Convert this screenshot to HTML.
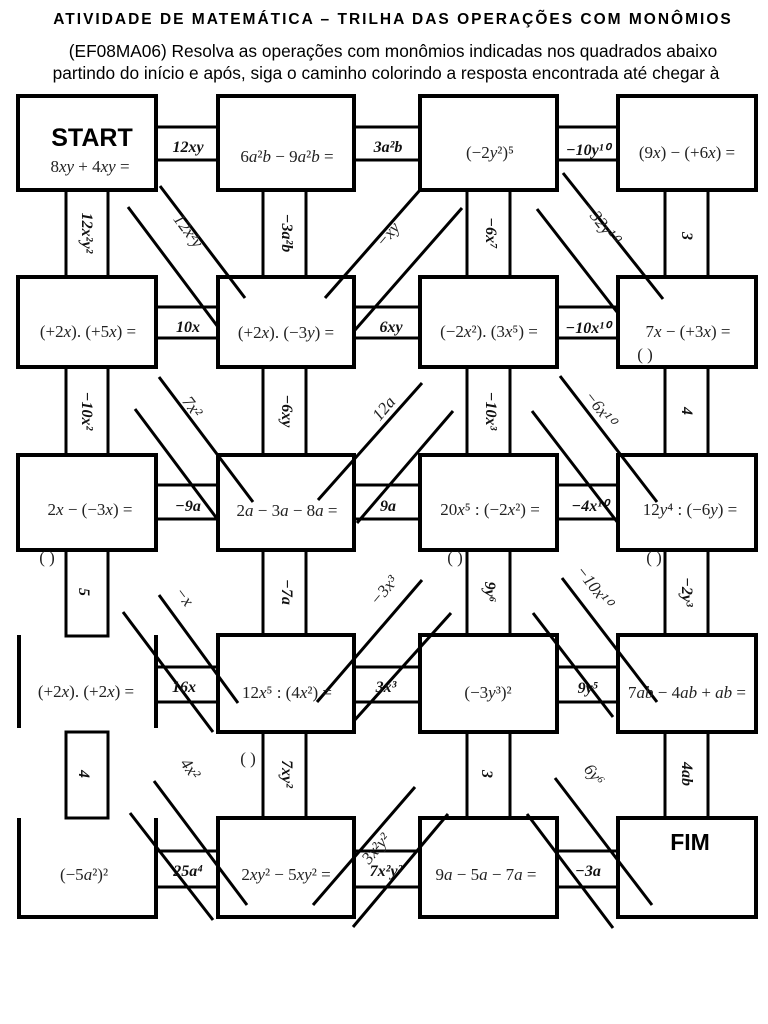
<!DOCTYPE html>
<html><head><meta charset="utf-8"><style>
html,body{margin:0;padding:0;background:#fff;}
svg{display:block;}
.t{font-family:"Liberation Serif",serif;font-size:17px;fill:#222;}
.i{font-style:italic;}
.b{font-family:"Liberation Serif",serif;font-size:16px;font-weight:bold;font-style:italic;fill:#111;}
.h{font-family:"Liberation Sans",sans-serif;}
</style></head><body>
<svg width="768" height="1024" viewBox="0 0 768 1024" xmlns="http://www.w3.org/2000/svg">
<rect width="768" height="1024" fill="#fff"/>
<text class="h" x="393" y="24" text-anchor="middle" font-size="15.5" font-weight="bold" letter-spacing="2">ATIVIDADE DE MATEMÁTICA – TRILHA DAS OPERAÇÕES COM MONÔMIOS</text>
<text class="h" x="393" y="57" text-anchor="middle" font-size="17.3">(EF08MA06) Resolva as operações com monômios indicadas nos quadrados abaixo</text>
<text class="h" x="386" y="79" text-anchor="middle" font-size="17.3">partindo do início e após, siga o caminho colorindo a resposta encontrada até chegar à</text>

<g stroke="#000" stroke-width="3" fill="none">
<path d="M156 127H218M156 160H218M354 127H420M354 160H420M557 127H618M557 160H618"/>
<path d="M156 307H218M156 338H218M354 307H420M354 338H420M557 307H618M557 338H618"/>
<path d="M156 485H218M156 519H218M354 485H420M354 519H420M557 485H618M557 519H618"/>
<path d="M156 667H218M156 702H218M354 667H420M354 702H420M557 667H618M557 702H618"/>
<path d="M156 851H218M156 887H218M354 851H420M354 887H420M557 851H618M557 887H618"/>
<path d="M66 190V277M108 190V277M263 190V277M306 190V277M467 190V277M510 190V277M665 190V277M708 190V277"/>
<path d="M66 367V455M108 367V455M263 367V455M306 367V455M467 367V455M510 367V455M665 367V455M708 367V455"/>
<path d="M263 550V635M306 550V635M467 550V635M510 550V635M665 550V635M708 550V635"/>
<path d="M263 732V818M306 732V818M467 732V818M510 732V818M665 732V818M708 732V818"/>
<rect x="66" y="550" width="42" height="86"/>
<rect x="66" y="732" width="42" height="86"/>
</g>
<g stroke="#000" stroke-width="4" fill="#fff">
<rect x="18" y="96" width="138" height="94"/>
<rect x="218" y="96" width="136" height="94"/>
<rect x="420" y="96" width="137" height="94"/>
<rect x="618" y="96" width="138" height="94"/>
<rect x="18" y="277" width="138" height="90"/>
<rect x="218" y="277" width="136" height="90"/>
<rect x="420" y="277" width="137" height="90"/>
<rect x="618" y="277" width="138" height="90"/>
<rect x="18" y="455" width="138" height="95"/>
<rect x="218" y="455" width="136" height="95"/>
<rect x="420" y="455" width="137" height="95"/>
<rect x="618" y="455" width="138" height="95"/>
<rect x="218" y="635" width="136" height="97"/>
<rect x="420" y="635" width="137" height="97"/>
<rect x="618" y="635" width="138" height="97"/>
<rect x="218" y="818" width="136" height="99"/>
<rect x="420" y="818" width="137" height="99"/>
<rect x="618" y="818" width="138" height="99"/>
</g>
<g stroke="#000" stroke-width="4" fill="none">
<path d="M19 635V728M156 635V728"/>
<path d="M19 818V917H156V818"/>
</g>
<g stroke="#000" stroke-width="3">
<path d="M160 186L245 298M128 207L218 327"/>
<path d="M420 190L325 298M462 208L355 330"/>
<path d="M563 173L663 299M537 209L617 312"/>
<path d="M159 377L253 502M135 409L218 520"/>
<path d="M422 383L318 500M453 411L357 523"/>
<path d="M560 376L657 502M532 411L618 523"/>
<path d="M159 595L238 703M123 612L213 732"/>
<path d="M422 580L317 702M451 613L353 722"/>
<path d="M562 578L657 702M533 613L613 717"/>
<path d="M154 781L247 905M130 813L213 920"/>
<path d="M415 787L313 905M448 814L353 927"/>
<path d="M555 778L652 905M527 814L613 928"/>
</g>

<text class="h" x="92" y="146" text-anchor="middle" font-size="25" font-weight="bold">START</text>
<text class="t" x="90" y="172" text-anchor="middle">8<tspan class="i">xy</tspan> + 4<tspan class="i">xy</tspan> =</text>
<text class="t" x="287" y="162" text-anchor="middle">6<tspan class="i">a</tspan>²<tspan class="i">b</tspan> − 9<tspan class="i">a</tspan>²<tspan class="i">b</tspan> =</text>
<text class="t" x="490" y="158" text-anchor="middle">(−2<tspan class="i">y</tspan>²)⁵</text>
<text class="t" x="687" y="158" text-anchor="middle">(9<tspan class="i">x</tspan>) − (+6<tspan class="i">x</tspan>) =</text>
<text class="t" x="88" y="337" text-anchor="middle">(+2<tspan class="i">x</tspan>). (+5<tspan class="i">x</tspan>) =</text>
<text class="t" x="286" y="338" text-anchor="middle">(+2<tspan class="i">x</tspan>). (−3<tspan class="i">y</tspan>) =</text>
<text class="t" x="489" y="337" text-anchor="middle" font-size="15">(−2<tspan class="i">x</tspan>²). (3<tspan class="i">x</tspan>⁵) =</text>
<text class="t" x="688" y="337" text-anchor="middle">7<tspan class="i">x</tspan>  − (+3<tspan class="i">x</tspan>) =</text>
<text class="t" x="645" y="360" text-anchor="middle">(   )</text>
<text class="t" x="90" y="515" text-anchor="middle">2<tspan class="i">x</tspan>  − (−3<tspan class="i">x</tspan>) =</text>
<text class="t" x="287" y="516" text-anchor="middle">2<tspan class="i">a</tspan> − 3<tspan class="i">a</tspan> − 8<tspan class="i">a</tspan> =</text>
<text class="t" x="490" y="515" text-anchor="middle" font-size="15">20<tspan class="i">x</tspan>⁵ : (−2<tspan class="i">x</tspan>²) =</text>
<text class="t" x="690" y="515" text-anchor="middle" font-size="15">12<tspan class="i">y</tspan>⁴ : (−6<tspan class="i">y</tspan>) =</text>
<text class="t" x="47" y="563" text-anchor="middle">(   )</text>
<text class="t" x="455" y="563" text-anchor="middle">(   )</text>
<text class="t" x="654" y="563" text-anchor="middle">(   )</text>
<text class="t" x="86" y="697" text-anchor="middle">(+2<tspan class="i">x</tspan>). (+2<tspan class="i">x</tspan>) =</text>
<text class="t" x="287" y="698" text-anchor="middle" font-size="16">12<tspan class="i">x</tspan>⁵ : (4<tspan class="i">x</tspan>²) =</text>
<text class="t" x="488" y="698" text-anchor="middle">(−3<tspan class="i">y</tspan>³)²</text>
<text class="t" x="687" y="698" text-anchor="middle" font-size="15">7<tspan class="i">ab</tspan> − 4<tspan class="i">ab</tspan> + <tspan class="i">ab</tspan> =</text>
<text class="t" x="248" y="764" text-anchor="middle">(       )</text>
<text class="t" x="84" y="880" text-anchor="middle">(−5<tspan class="i">a</tspan>²)²</text>
<text class="t" x="286" y="880" text-anchor="middle">2<tspan class="i">xy</tspan>² − 5<tspan class="i">xy</tspan>² =</text>
<text class="t" x="486" y="880" text-anchor="middle">9<tspan class="i">a</tspan> − 5<tspan class="i">a</tspan> − 7<tspan class="i">a</tspan> =</text>
<text class="h" x="690" y="850" text-anchor="middle" font-size="23" font-weight="bold">FIM</text>

<text class="b" x="188" y="152" text-anchor="middle">12xy</text>
<text class="b" x="388" y="152" text-anchor="middle">3a²b</text>
<text class="b" x="588" y="155" text-anchor="middle">−10y¹⁰</text>
<text class="b" x="188" y="332" text-anchor="middle">10x</text>
<text class="b" x="391" y="332" text-anchor="middle">6xy</text>
<text class="b" x="588" y="333" text-anchor="middle">−10x¹⁰</text>
<text class="b" x="188" y="511" text-anchor="middle">−9a</text>
<text class="b" x="388" y="511" text-anchor="middle">9a</text>
<text class="b" x="590" y="511" text-anchor="middle">−4x¹⁰</text>
<text class="b" x="184" y="692" text-anchor="middle">16x</text>
<text class="b" x="386" y="692" text-anchor="middle">3x³</text>
<text class="b" x="588" y="693" text-anchor="middle">9y⁵</text>
<text class="b" x="188" y="876" text-anchor="middle">25a⁴</text>
<text class="b" x="386" y="876" text-anchor="middle">7x²y²</text>
<text class="b" x="588" y="876" text-anchor="middle">−3a</text>

<g class="b">
<text transform="translate(82,233) rotate(90)" text-anchor="middle">12x²y²</text>
<text transform="translate(282,233) rotate(90)" text-anchor="middle">−3a²b</text>
<text transform="translate(486,233) rotate(90)" text-anchor="middle">−6x⁷</text>
<text transform="translate(682,236) rotate(90)" text-anchor="middle">3</text>
<text transform="translate(82,411) rotate(90)" text-anchor="middle">−10x²</text>
<text transform="translate(282,411) rotate(90)" text-anchor="middle">−6xy</text>
<text transform="translate(486,411) rotate(90)" text-anchor="middle">−10x³</text>
<text transform="translate(682,411) rotate(90)" text-anchor="middle">4</text>
<text transform="translate(79,592) rotate(90)" text-anchor="middle">5</text>
<text transform="translate(282,592) rotate(90)" text-anchor="middle">−7a</text>
<text transform="translate(485,592) rotate(90)" text-anchor="middle">9y⁶</text>
<text transform="translate(682,592) rotate(90)" text-anchor="middle">−2y³</text>
<text transform="translate(79,774) rotate(90)" text-anchor="middle">4</text>
<text transform="translate(282,774) rotate(90)" text-anchor="middle">7xy²</text>
<text transform="translate(482,774) rotate(90)" text-anchor="middle">3</text>
<text transform="translate(682,774) rotate(90)" text-anchor="middle">4ab</text>
</g>

<g class="t i">
<text transform="translate(184,234) rotate(53)" text-anchor="middle">12x²y</text>
<text transform="translate(392,238) rotate(-50)" text-anchor="middle">−xy</text>
<text transform="translate(597,226) rotate(52)" text-anchor="middle">−32y¹⁰</text>
<text transform="translate(188,410) rotate(53)" text-anchor="middle">7x²</text>
<text transform="translate(388,412) rotate(-50)" text-anchor="middle">12a</text>
<text transform="translate(596,412) rotate(52)" text-anchor="middle">−6x¹⁰</text>
<text transform="translate(180,600) rotate(53)" text-anchor="middle">−x</text>
<text transform="translate(388,594) rotate(-50)" text-anchor="middle">−3x³</text>
<text transform="translate(590,590) rotate(52)" text-anchor="middle">−10x¹⁰</text>
<text transform="translate(186,772) rotate(53)" text-anchor="middle">4x²</text>
<text transform="translate(380,852) rotate(-50)" text-anchor="middle">3x²y²</text>
<text transform="translate(590,778) rotate(52)" text-anchor="middle">6y⁶</text>
</g>
</svg>
</body></html>
